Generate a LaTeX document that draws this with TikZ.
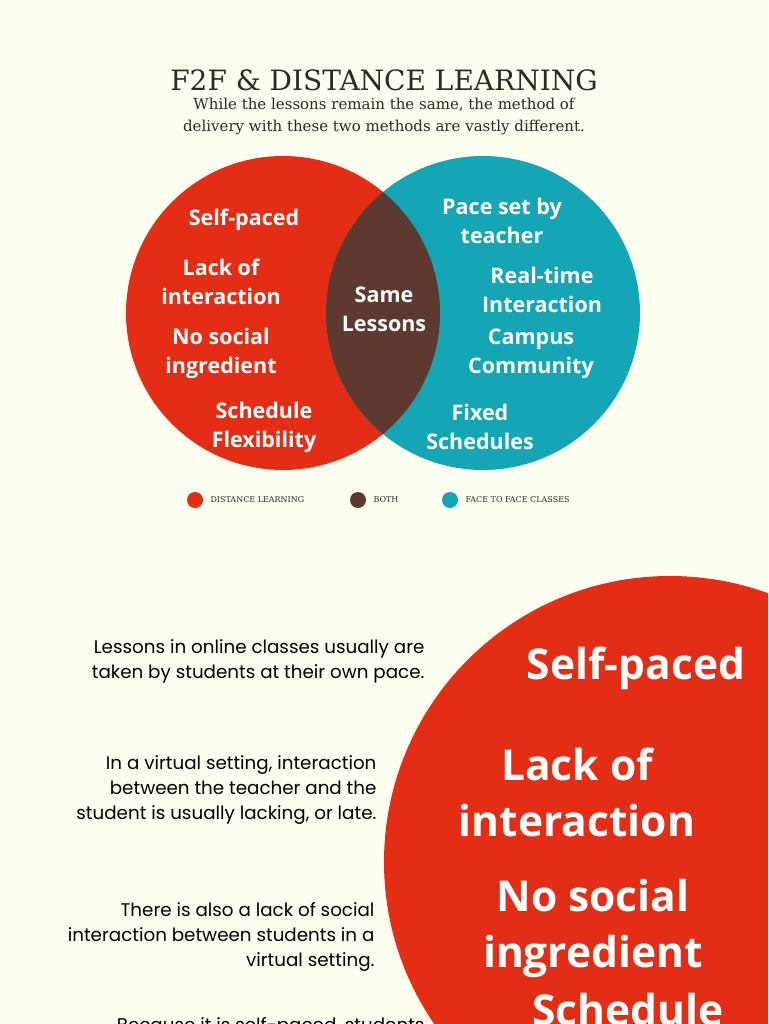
\documentclass[tikz,border=0pt]{standalone}
\usepackage{fontspec}
\setmainfont{Open Sans}
\newfontfamily\slab{DejaVu Serif}
\newfontfamily\pop{Poppins}
\definecolor{bg}{HTML}{FDFEF0}
\definecolor{dred}{HTML}{E32D14}
\definecolor{teal}{HTML}{14A6B5}
\definecolor{both}{HTML}{5E392F}
\definecolor{ink}{HTML}{2A2A26}
\begin{document}
\begin{tikzpicture}[x=1pt,y=-1pt,
  lab/.style={text=white,font=\bfseries\fontsize{21.5}{29}\selectfont,align=center,yshift=-3pt},
  big/.style={text=white,font=\bfseries\fontsize{42.5}{56}\selectfont,align=center},
  body/.style={text=black,font=\pop\fontsize{18.3}{25}\selectfont,align=right,anchor=east},
  leg/.style={text=ink,font=\slab\fontsize{8}{9}\selectfont,anchor=west}]
\useasboundingbox (0,0) rectangle (768,1024);
\clip (0,0) rectangle (768,1024);
\fill[bg] (0,0) rectangle (768,1024);
\node (title) at (384,80) {\slab\color{ink}\fontsize{28}{30}\selectfont F2F \& DISTANCE LEARNING};
\node (sub) at (384,116) [align=center,text=ink,font=\slab\fontsize{15}{22}\selectfont] {While the lessons remain the same, the method of\\delivery with these two methods are vastly different.};
\fill[dred] (283,313) circle (157);
\fill[teal] (483,313) circle (157);
\begin{scope}
\clip (283,313) circle (157);
\fill[both] (483,313) circle (157);
\end{scope}
\node[lab] (a1) at (244,217) {Self-paced};
\node[lab] (a2) at (221,279) {Lack of\\interaction};
\node[lab] (a3) at (221,350) {No social\\ingredient};
\node[lab] (a4) at (264,424) {Schedule\\Flexibility};
\node[lab] (m) at (384,306) {Same\\Lessons};
\node[lab] (b1) at (502,218) {Pace set by\\teacher};
\node[lab] (b2) at (542,287) {Real-time\\Interaction};
\node[lab] (b3) at (531,351) {Campus\\Community};
\node[lab] (b4) at (480,424) {Fixed\\Schedules};
\fill[dred] (195,500) circle (8) coordinate (d1);
\node[leg] (l1) at (207,500) {DISTANCE LEARNING};
\fill[both] (358,500) circle (8) coordinate (d2);
\node[leg] (l2) at (370,500) {BOTH};
\fill[teal] (450,500) circle (8) coordinate (d3);
\node[leg] (l3) at (462,500) {FACE TO FACE CLASSES};
\fill[dred] (670,862) circle (286);
\node[big] (c1) at (636,668) {Self-paced};
\node[big] (c2) at (577,792) {Lack of\\interaction};
\node[big] (c3) at (593,928) {No social\\ingredient};
\node[big,anchor=north] (c4) at (628,990) {Schedule};
\node[body] (t1) at (428,661) {Lessons in online classes usually are\\taken by students at their own pace.};
\node[body] (t2) at (380,790) {In a virtual setting, interaction\\between the teacher and the\\student is usually lacking, or late.};
\node[body] (t3) at (378,937) {There is also a lack of social\\interaction between students in a\\virtual setting.};
\node[body,anchor=north east] (t4) at (428,1014) {Because it is self-paced, students};
\end{tikzpicture}
\end{document}
